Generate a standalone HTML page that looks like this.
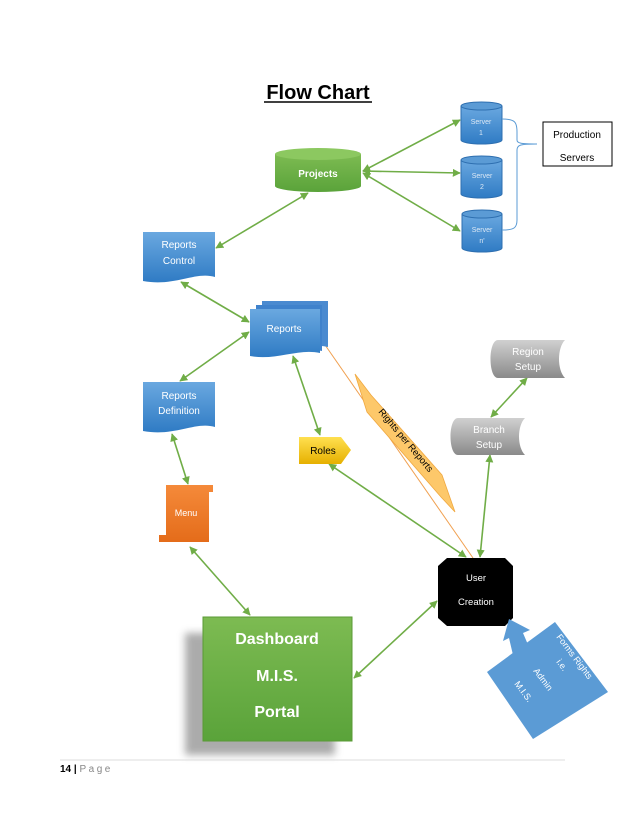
<!DOCTYPE html>
<html><head><meta charset="utf-8"><style>
body{margin:0;background:#fff;}
svg{display:block;font-family:"Liberation Sans",sans-serif;}
</style></head><body>
<svg width="638" height="826" viewBox="0 0 638 826" xmlns="http://www.w3.org/2000/svg">
<defs>
<marker id="a" viewBox="0 0 10 10" refX="9" refY="5" markerWidth="5" markerHeight="5" orient="auto-start-reverse"><path d="M0,0L10,5L0,10z" fill="#70ad47"/></marker>
<linearGradient id="bl" x1="0" y1="0" x2="0" y2="1"><stop offset="0" stop-color="#6aa8e0"/><stop offset="1" stop-color="#2f7bc4"/></linearGradient>
<linearGradient id="gr" x1="0" y1="0" x2="0" y2="1"><stop offset="0" stop-color="#d0d0d0"/><stop offset="1" stop-color="#8a8a8a"/></linearGradient>
<linearGradient id="gn" x1="0" y1="0" x2="0" y2="1"><stop offset="0" stop-color="#7dbb52"/><stop offset="1" stop-color="#5aa33a"/></linearGradient>
<linearGradient id="yl" x1="0" y1="0" x2="0" y2="1"><stop offset="0" stop-color="#ffe050"/><stop offset="1" stop-color="#e6b000"/></linearGradient>
<linearGradient id="or" x1="0" y1="0" x2="0" y2="1"><stop offset="0" stop-color="#f58a3a"/><stop offset="1" stop-color="#e46c1a"/></linearGradient>
<filter id="sh"><feGaussianBlur stdDeviation="4"/></filter>
</defs>

<text x="318" y="99" font-size="20" font-weight="bold" text-anchor="middle" fill="#000">Flow Chart</text>
<line x1="264" y1="102" x2="372" y2="102" stroke="#000" stroke-width="1.5"/>

<g stroke="#70ad47" stroke-width="1.6" fill="none" marker-start="url(#a)" marker-end="url(#a)">
<line x1="363" y1="171" x2="460" y2="120"/>
<line x1="363" y1="171" x2="460" y2="173"/>
<line x1="363" y1="173" x2="460" y2="231"/>
<line x1="308" y1="193" x2="216" y2="248"/>
<line x1="181" y1="282" x2="249" y2="322"/>
<line x1="249" y1="332" x2="180" y2="381"/>
<line x1="293" y1="356" x2="320" y2="435"/>
<line x1="329" y1="464" x2="466" y2="557"/>
<line x1="172" y1="434" x2="188" y2="484"/>
<line x1="190" y1="547" x2="250" y2="615"/>
<line x1="354" y1="678" x2="437" y2="601"/>
<line x1="480" y1="557" x2="490" y2="455"/>
<line x1="491" y1="417" x2="527" y2="378"/>
</g>
<line x1="323" y1="342" x2="473" y2="558" stroke="#f0a050" stroke-width="1"/>

<g fill="url(#bl)" stroke="#2e6fb0" stroke-width="1">
<path d="M461,106v34a20.5,4 0 0 0 41,0v-34"/><ellipse cx="481.5" cy="106" rx="20.5" ry="4" fill="#5b9bd5"/>
<path d="M461,160v34a20.5,4 0 0 0 41,0v-34"/><ellipse cx="481.5" cy="160" rx="20.5" ry="4" fill="#5b9bd5"/>
<path d="M462,214v34a20,4 0 0 0 40,0v-34"/><ellipse cx="482" cy="214" rx="20" ry="4" fill="#5b9bd5"/>
</g>
<g fill="#dbe8f5" font-size="7" text-anchor="middle">
<text x="481" y="124">Server</text><text x="481" y="135">1</text>
<text x="482" y="178">Server</text><text x="482" y="189">2</text>
<text x="482" y="232">Server</text><text x="482" y="243">n'</text>
</g>
<path d="M502,119 C515,119 517,122 517,132 L517,140 C517,143 520,144 537,144 C520,144 517,145 517,150 L517,220 C517,228 514,230 502,230" fill="none" stroke="#5b9bd5" stroke-width="1"/>
<rect x="543" y="122" width="69" height="44" fill="#fff" stroke="#000" stroke-width="1"/>
<text x="577" y="138" font-size="10" text-anchor="middle">Production</text>
<text x="577" y="161" font-size="10" text-anchor="middle">Servers</text>

<path d="M275,154v32a43,6 0 0 0 86,0v-32" fill="url(#gn)"/>
<ellipse cx="318" cy="154" rx="43" ry="6" fill="#8cc860"/>
<text x="318" y="177" font-size="10" font-weight="bold" fill="#fff" text-anchor="middle">Projects</text>

<path d="M143,232h72v45c-20,-6 -40,10 -72,4z" fill="url(#bl)"/>
<text x="179" y="248" font-size="10" fill="#fff" text-anchor="middle">Reports</text>
<text x="179" y="264" font-size="10" fill="#fff" text-anchor="middle">Control</text>

<path d="M262,301h66v46c-20,-5 -40,8 -66,3z" fill="#4a8ad0"/>
<path d="M256,305h66v46c-20,-5 -40,8 -66,3z" fill="#3f82cc"/>
<path d="M250,309h70v44c-22,-5 -44,8 -70,3z" fill="url(#bl)"/>
<text x="284" y="332" font-size="10" fill="#fff" text-anchor="middle">Reports</text>

<path d="M143,382h72v45c-20,-6 -40,10 -72,4z" fill="url(#bl)"/>
<text x="179" y="399" font-size="10" fill="#fff" text-anchor="middle">Reports</text>
<text x="179" y="414" font-size="10" fill="#fff" text-anchor="middle">Definition</text>

<polygon points="355,374 371,395 442,475 455,512 441,497 367,412" fill="#fdc86a" stroke="#f0a840" stroke-width="0.8"/>
<text transform="translate(378,412) rotate(50)" font-size="9.5" fill="#000">Rights per Reports</text>

<polygon points="299,437 341,437 351,450 341,464 299,464" fill="url(#yl)"/>
<text x="323" y="454" font-size="10" text-anchor="middle">Roles</text>

<path d="M498,340h67c-8,8 -8,30 0,38h-67c-10,0 -10,-38 0,-38z" fill="url(#gr)"/>
<text x="528" y="355" font-size="10" fill="#fff" text-anchor="middle">Region</text>
<text x="528" y="370" font-size="10" fill="#fff" text-anchor="middle">Setup</text>
<path d="M458,418h67c-8,8 -8,29 0,37h-67c-10,0 -10,-37 0,-37z" fill="url(#gr)"/>
<text x="489" y="433" font-size="10" fill="#fff" text-anchor="middle">Branch</text>
<text x="489" y="448" font-size="10" fill="#fff" text-anchor="middle">Setup</text>

<path d="M166,485h47v7h-4v50h-50v-7h7z" fill="url(#or)"/>
<text x="186" y="516" font-size="9" fill="#fff" text-anchor="middle">Menu</text>

<path d="M447,558h58l8,8v52l-8,8h-58l-9,-8v-52z" fill="#000"/>
<text x="476" y="581" font-size="9.5" fill="#fff" text-anchor="middle">User</text>
<text x="476" y="605" font-size="9.5" fill="#fff" text-anchor="middle">Creation</text>

<rect x="185" y="633" width="150" height="122" fill="#888" filter="url(#sh)" opacity="0.7"/>
<rect x="203" y="617" width="149" height="124" fill="url(#gn)" stroke="#5a9a35"/>
<g fill="#fff" font-size="16" font-weight="bold" text-anchor="middle">
<text x="277" y="644">Dashboard</text><text x="277" y="681">M.I.S.</text><text x="277" y="717">Portal</text>
</g>

<polygon points="555,622 608,692 533,739 487,672" fill="#5b9bd5"/>
<polygon points="513,655 509,638 503,641 509,619 530,630 523,633 529,647" fill="#5b9bd5"/>
<g fill="#fff" font-size="9">
<text transform="translate(556,637) rotate(53)">Forms Rights</text>
<text transform="translate(556,662) rotate(53)">i.e.</text>
<text transform="translate(533,671) rotate(53)">Admin</text>
<text transform="translate(514,684) rotate(53)">M.I.S.</text>
</g>

<line x1="60" y1="760" x2="565" y2="760" stroke="#ddd" stroke-width="1"/>
<text x="60" y="772" font-size="10" fill="#000"><tspan font-weight="bold">14 | </tspan><tspan fill="#888" letter-spacing="2.5">Page</tspan></text>
</svg>
</body></html>
